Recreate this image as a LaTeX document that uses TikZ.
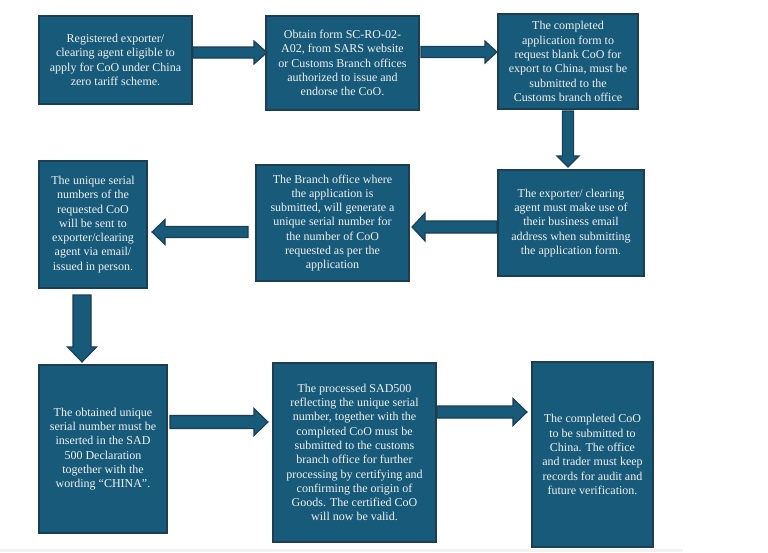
\documentclass[tikz,border=0pt]{standalone}
\usepackage{fontspec}
\setmainfont{Liberation Serif}
\usetikzlibrary{calc}
\definecolor{boxfill}{HTML}{175A7A}
\definecolor{boxedge}{HTML}{1B3E52}
\definecolor{boxtext}{HTML}{F2F2F2}
\definecolor{strip}{HTML}{F3F3F3}
\tikzset{
  stepbox/.style={draw=boxedge, line width=1.3pt, fill=boxfill, text=boxtext,
    align=center, inner sep=0pt, font=\fontsize{12}{14.3}\selectfont},
  barrow/.style={draw=boxedge, line width=1.1pt, fill=boxfill, line join=miter}
}
\newcommand\rarr[5]{\draw[barrow] let \p1=(#1), \p2=(#2) in
  (\x1,\y1+#3) -- (\x2-#5,\y1+#3) -- (\x2-#5,\y1+#4) -- (\x2,\y1) --
  (\x2-#5,\y1-#4) -- (\x2-#5,\y1-#3) -- (\x1,\y1-#3) -- cycle;}
\newcommand\larr[5]{\draw[barrow] let \p1=(#1), \p2=(#2) in
  (\x1,\y1+#3) -- (\x2+#5,\y1+#3) -- (\x2+#5,\y1+#4) -- (\x2,\y1) --
  (\x2+#5,\y1-#4) -- (\x2+#5,\y1-#3) -- (\x1,\y1-#3) -- cycle;}
\newcommand\darr[5]{\draw[barrow] let \p1=(#1), \p2=(#2) in
  (\x1-#3,\y1) -- (\x1-#3,\y2+#5) -- (\x1-#4,\y2+#5) -- (\x1,\y2) --
  (\x1+#4,\y2+#5) -- (\x1+#3,\y2+#5) -- (\x1+#3,\y1) -- cycle;}
\begin{document}
\begin{tikzpicture}[x=1pt,y=-1pt]
\useasboundingbox (0,0) rectangle (768,552);
\fill[white] (0,0) rectangle (768,552);
\fill[strip] (0,549) rectangle (683,552);

\node[stepbox, minimum width=153pt, minimum height=88pt] (b1) at (115.5,60)
  {Registered exporter/\\clearing agent eligible to\\apply for CoO under China\\zero tariff scheme.};
\node[stepbox, minimum width=153pt, minimum height=94pt] (b2) at (342.5,63)
  {Obtain form SC-RO-02-\\A02, from SARS website\\or Customs Branch offices\\authorized to issue and\\endorse the CoO.};
\node[stepbox, minimum width=140pt, minimum height=95pt] (b3) at (568,61.5)
  {The completed\\application form to\\request blank CoO for\\export to China, must be\\submitted to the\\Customs branch office};
\node[stepbox, minimum width=146pt, minimum height=106pt] (b4) at (571,223)
  {The exporter/ clearing\\agent must make use of\\their business email\\address when submitting\\the application form.};
\node[stepbox, minimum width=153pt, minimum height=116pt] (b5) at (332.5,223)
  {The Branch office where\\the application is\\submitted, will generate a\\unique serial number for\\the number of CoO\\requested as per the\\application};
\node[stepbox, minimum width=108pt, minimum height=127pt] (b6) at (93,224.5)
  {The unique serial\\numbers of the\\requested CoO\\will be sent to\\exporter/clearing\\agent via email/\\issued in person.};
\node[stepbox, minimum width=128pt, minimum height=168pt] (b7) at (103,449)
  {The obtained unique\\serial number must be\\inserted in the SAD\\500 Declaration\\together with the\\wording “CHINA”.};
\node[stepbox, minimum width=163pt, minimum height=179pt] (b8) at (354.5,452.5)
  {The processed SAD500\\reflecting the unique serial\\number, together with the\\completed CoO must be\\submitted to the customs\\branch office for further\\processing by certifying and\\confirming the origin of\\Goods. The certified CoO\\will now be valid.};
\node[stepbox, minimum width=121pt, minimum height=185pt] (b9) at (592.5,454.5)
  {The completed CoO\\to be submitted to\\China. The office\\and trader must keep\\records for audit and\\future verification.};

% arrow end points
\coordinate (a1s) at (193,52.5);  \coordinate (a1e) at (267,52.5);
\coordinate (a2s) at (421,52);    \coordinate (a2e) at (497,52);
\coordinate (a3s) at (568,111);   \coordinate (a3e) at (568,167);
\coordinate (a4s) at (497,227);   \coordinate (a4e) at (412,227);
\coordinate (a5s) at (248,232);   \coordinate (a5e) at (152,232);
\coordinate (a6s) at (82,295);    \coordinate (a6e) at (82,362);
\coordinate (a7s) at (170,422);   \coordinate (a7e) at (268,422);
\coordinate (a8s) at (437,412);   \coordinate (a8e) at (527,412);

\rarr{a1s}{a1e}{5.5pt}{11.5pt}{13pt}
\rarr{a2s}{a2e}{5.5pt}{11pt}{12pt}
\darr{a3s}{a3e}{5.5pt}{11pt}{11pt}
\larr{a4s}{a4e}{6pt}{14pt}{13pt}
\larr{a5s}{a5e}{5.5pt}{12.5pt}{13pt}
\darr{a6s}{a6e}{9pt}{14.5pt}{15pt}
\rarr{a7s}{a7e}{6.5pt}{13.5pt}{14pt}
\rarr{a8s}{a8e}{6pt}{13.5pt}{14pt}
\end{tikzpicture}
\end{document}
